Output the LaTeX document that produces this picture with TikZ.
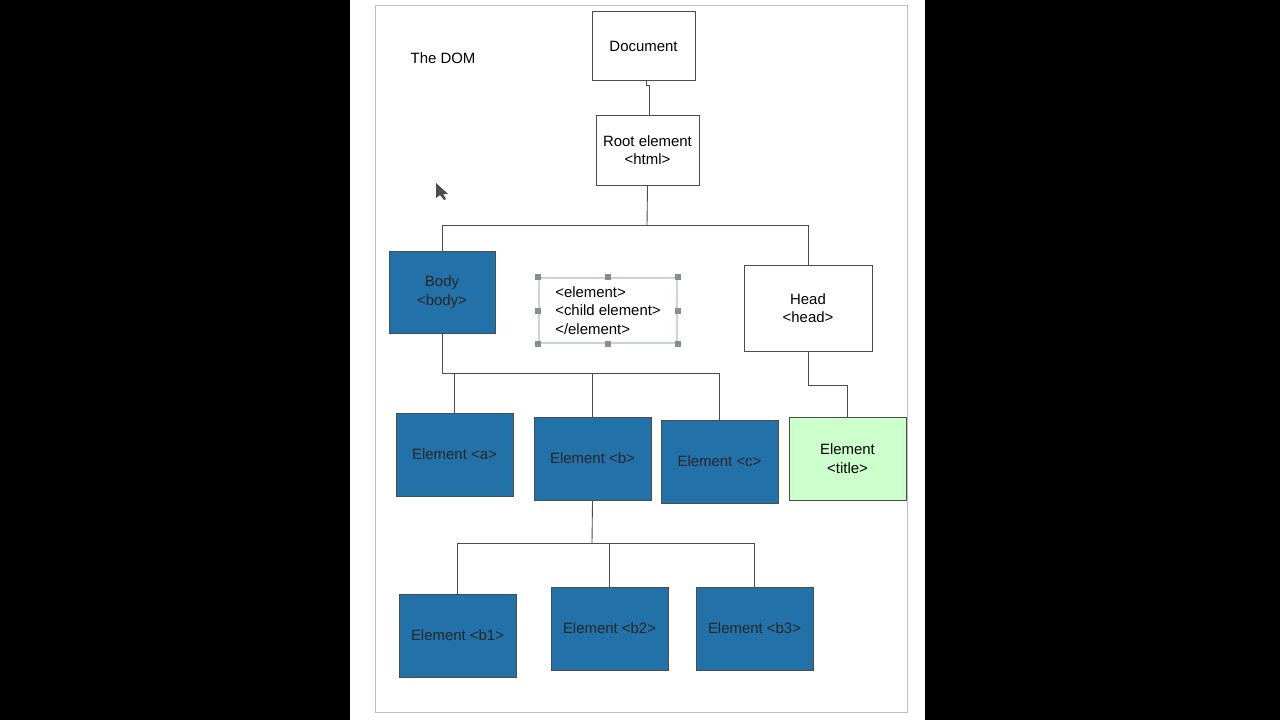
\documentclass[tikz,border=0pt]{standalone}
\usepackage{fontspec}
\setmainfont{Liberation Sans}
\usetikzlibrary{positioning}
\definecolor{elblue}{HTML}{2271A8}
\definecolor{elgreen}{HTML}{CCFFCC}
\definecolor{selgray}{HTML}{C8D4E0}
\begin{document}
\begin{tikzpicture}[x=0.02cm,y=-0.02cm,
    every node/.style={font=\fontsize{8.5}{10.5}\selectfont, align=center},
    box/.style={draw=black!70, fill=white, minimum width=2.06cm, minimum height=1.38cm},
    blue box/.style={box, fill=elblue, text=black!85, minimum width=2.34cm, minimum height=1.66cm},
    link/.style={draw=black!70, line width=0.5pt}]
    \fill[black] (0,0) rectangle (1280,720);
    \fill[white] (350,0) rectangle (925,720);
    \draw[black!25] (375,5) rectangle (907,712);

    \node[draw=none] (dom) at (443,58) {The DOM};
    \node[box] (doc) at (643.5,46) {Document};
    \node[box, minimum height=1.4cm] (root) at (647.5,150) {Root element\\<html>};
    \node[blue box, minimum width=2.12cm, minimum height=1.64cm] (body) at (442,292) {Body\\<body>};
    \node[box, minimum width=2.56cm, minimum height=1.72cm] (head) at (808,308) {Head\\<head>};
    \node[draw=selgray, line width=1pt, minimum width=2.76cm, minimum height=1.3cm, align=left] (tmpl) at (608,310.5) {<element>\\<child element>\\</element>};
    \foreach \p in {north west,north,north east,east,south east,south,south west,west}
      \fill[black!45] (tmpl.\p) ++(-3,-3) rectangle ++(6,6);

    \node[blue box] (ea) at (454.5,454.5) {Element <a>};
    \node[blue box] (eb) at (592.5,458.5) {Element <b>};
    \node[blue box] (ec) at (719.5,461.5) {Element <c>};
    \node[box, fill=elgreen, minimum width=2.34cm, minimum height=1.66cm] (etitle) at (847.5,458.5) {Element\\<title>};
    \node[blue box] (eb1) at (457.5,635.5) {Element <b1>};
    \node[blue box] (eb2) at (609.5,628.5) {Element <b2>};
    \node[blue box] (eb3) at (754.5,628.5) {Element <b3>};

    % cursor
    \fill[black!70] (436,183) -- (436,198) -- (440,195) -- (444,200) -- (446,199) -- (443,194) -- (448,194) -- cycle;

    % connectors
    \coordinate (j0) at (645,85);
    \coordinate (j1) at (647,225);
    \coordinate (j2) at (442,373);
    \coordinate (j3) at (808,385);
    \coordinate (j4) at (592,543);
    \draw[link] ([xshift=1.5]doc.south) -- ([xshift=1.5]doc.south |- j0) -| ([xshift=3.5]doc.south |- root.north);
    \draw[link] (root.south) -- (j1);
    \draw[link] (j1) -| (body.north);
    \draw[link] (j1) -| (head.north);
    \draw[link] (body.south) -- (j2);
    \draw[link] (j2) -| (ec.north);
    \draw[link] (ea.north) -- (ea.north |- j2);
    \draw[link] (eb.north) -- (eb.north |- j2);
    \draw[link] (head.south) -- (j3) -| (etitle.north);
    \draw[link] (eb.south) -- (j4);
    \draw[link] (j4) -| (eb1.north);
    \draw[link] (j4) -| (eb3.north);
    \draw[link] (eb2.north) -- (eb2.north |- j4);
\end{tikzpicture}
\end{document}
